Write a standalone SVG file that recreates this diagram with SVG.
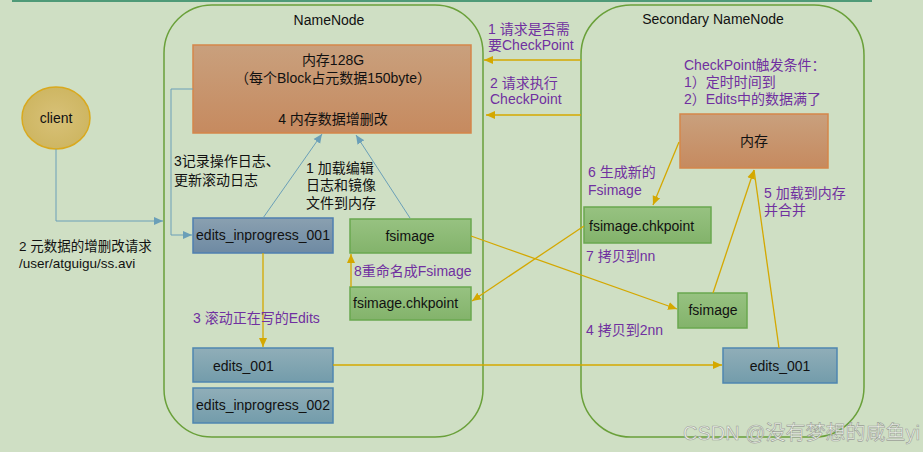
<svg xmlns="http://www.w3.org/2000/svg" width="923" height="452" viewBox="0 0 923 452">
<defs>
<linearGradient id="gMem" x1="0" y1="0" x2="0" y2="1"><stop offset="0" stop-color="#c9a07d"/><stop offset="1" stop-color="#c68a5f"/></linearGradient>
<linearGradient id="gBlue" x1="0" y1="0" x2="0" y2="1"><stop offset="0" stop-color="#90aeb8"/><stop offset="1" stop-color="#739cab"/></linearGradient>
<linearGradient id="gBlue2" x1="0" y1="0" x2="0" y2="1"><stop offset="0" stop-color="#8aa0b0"/><stop offset="1" stop-color="#6e8aa3"/></linearGradient>
<linearGradient id="gGreen" x1="0" y1="0" x2="0" y2="1"><stop offset="0" stop-color="#97c281"/><stop offset="1" stop-color="#83b36b"/></linearGradient>
<radialGradient id="gClient" cx="0.5" cy="0.5" r="0.6"><stop offset="0" stop-color="#d8c178"/><stop offset="1" stop-color="#ccb45e"/></radialGradient>
<marker id="aO" markerWidth="10" markerHeight="10" refX="9" refY="5" orient="auto" markerUnits="userSpaceOnUse"><path d="M0,1 L9,5 L0,9 z" fill="#d4a800"/></marker>
<marker id="aB" markerWidth="10" markerHeight="10" refX="9" refY="5" orient="auto" markerUnits="userSpaceOnUse"><path d="M0,1 L9,5 L0,9 z" fill="#6a9fb8"/></marker>
<style>
.t{font-family:"Liberation Sans","Noto Sans CJK SC",sans-serif;font-size:14px;fill:#111}
.p{font-family:"Liberation Sans","Noto Sans CJK SC",sans-serif;font-size:14px;fill:#7030a0}
.c{text-anchor:middle}
.cont{fill:none;stroke:#6aa03a;stroke-width:1.5}
.mem{fill:url(#gMem);stroke:#d5864a;stroke-width:1.5}
.blue{fill:url(#gBlue);stroke:#4f86b0;stroke-width:1.5}
.blue2{fill:url(#gBlue2);stroke:#4f7fb0;stroke-width:1.5}
.green{fill:url(#gGreen);stroke:#6aa84f;stroke-width:1.5}
.lo{fill:none;stroke:#d4a800;stroke-width:1.3}
.lb{fill:none;stroke:#6a9fb8;stroke-width:1}
</style>
</defs>
<rect x="0" y="0" width="923" height="452" fill="#cfdfc4"/>
<line x1="12" y1="1" x2="872" y2="1" stroke="#4f9a78" stroke-width="2"/>

<g id="namenode">
<rect class="cont" x="164" y="5" width="319" height="432" rx="48" ry="48"/>
<text class="t c" x="329" y="25">NameNode</text>
</g>
<g id="secondary-namenode">
<rect class="cont" x="581" y="5" width="283" height="432" rx="50" ry="50"/>
<text class="t c" x="713" y="24">Secondary NameNode</text>
</g>

<g id="client">
<ellipse cx="56" cy="118" rx="34" ry="31" fill="url(#gClient)" stroke="#d9a91e" stroke-width="1.5"/>
<text class="t c" x="56" y="123">client</text>
</g>

<g id="nn-memory">
<rect class="mem" x="193" y="45" width="278" height="88"/>
<text class="t c" x="333" y="65">内存128G</text>
<text class="t c" x="333" y="83">（每个Block占元数据150byte）</text>
<text class="t c" x="333" y="124">4 内存数据增删改</text>
</g>

<g id="edits-inprogress-001">
<rect class="blue2" x="193" y="218" width="140" height="35"/>
<text class="t c" x="263" y="240">edits_inprogress_001</text>
</g>
<g id="nn-fsimage">
<rect class="green" x="350" y="219" width="121" height="34"/>
<text class="t c" x="410" y="241">fsimage</text>
</g>
<g id="nn-fsimage-chkpoint">
<rect class="green" x="350" y="287" width="121" height="33"/>
<text class="t" x="353" y="308">fsimage.chkpoint</text>
</g>
<g id="nn-edits-001">
<rect class="blue" x="193" y="348" width="140" height="34"/>
<text class="t" x="213" y="371">edits_001</text>
</g>
<g id="edits-inprogress-002">
<rect class="blue" x="193" y="388" width="140" height="35"/>
<text class="t c" x="263" y="410">edits_inprogress_002</text>
</g>

<g id="snn-memory">
<rect class="mem" x="680" y="114" width="148" height="54"/>
<text class="t c" x="754" y="146">内存</text>
</g>
<g id="snn-fsimage-chkpoint">
<rect class="green" x="584" y="207" width="127" height="36"/>
<text class="t" x="589" y="231">fsimage.chkpoint</text>
</g>
<g id="snn-fsimage">
<rect class="green" x="678" y="293" width="69" height="35"/>
<text class="t c" x="713" y="315">fsimage</text>
</g>
<g id="snn-edits-001">
<rect class="blue" x="723" y="348" width="114" height="35"/>
<text class="t c" x="780" y="371">edits_001</text>
</g>

<g id="connectors">
<path class="lb" d="M56,149 V221 H163" marker-end="url(#aB)"/>
<path class="lb" d="M193,89 H171 V235 H192" marker-end="url(#aB)"/>
<path class="lb" d="M263,218 L322,134" marker-end="url(#aB)"/>
<path class="lb" d="M410,218 L356,135" marker-end="url(#aB)"/>
<path class="lo" d="M263,253 V347" marker-end="url(#aO)"/>
<path class="lo" d="M351,287 V254" marker-end="url(#aO)"/>
<path class="lo" d="M581,60 H484" marker-end="url(#aO)"/>
<path class="lo" d="M581,115 H486" marker-end="url(#aO)"/>
<path class="lo" d="M679,142 L653,205" marker-end="url(#aO)"/>
<path class="lo" d="M584,226 L472,301" marker-end="url(#aO)"/>
<path class="lo" d="M471,236 L677,309" marker-end="url(#aO)"/>
<path class="lo" d="M333,365 H722" marker-end="url(#aO)"/>
<path class="lo" d="M713,293 L754,170" marker-end="url(#aO)"/>
<path class="lo" d="M779,348 L754,170"/>
</g>

<g id="labels">
<text class="t" x="174" y="166">3记录操作日志、</text>
<text class="t" x="174" y="185">更新滚动日志</text>
<text class="t" x="306" y="173">1 加载编辑</text>
<text class="t" x="306" y="190">日志和镜像</text>
<text class="t" x="306" y="208">文件到内存</text>
<text class="t" x="19" y="251" style="font-size:13.5px">2 元数据的增删改请求</text>
<text class="t" x="19" y="268" style="font-size:13.5px">/user/atguigu/ss.avi</text>
<text class="p" x="193" y="323">3 滚动正在写的Edits</text>
<text class="p" x="354" y="276">8重命名成Fsimage</text>
<text class="p" x="488" y="34">1 请求是否需</text>
<text class="p" x="488" y="50">要CheckPoint</text>
<text class="p" x="490" y="88">2 请求执行</text>
<text class="p" x="490" y="104">CheckPoint</text>
<text class="p" x="684" y="70">CheckPoint触发条件：</text>
<text class="p" x="684" y="87">1）定时时间到</text>
<text class="p" x="684" y="104">2）Edits中的数据满了</text>
<text class="p" x="588" y="177">6 生成新的</text>
<text class="p" x="588" y="195">Fsimage</text>
<text class="p" x="764" y="198">5 加载到内存</text>
<text class="p" x="764" y="215">并合并</text>
<text class="p" x="586" y="261">7 拷贝到nn</text>
<text class="p" x="586" y="335">4 拷贝到2nn</text>
</g>
<text x="683" y="440" style="font-family:'Liberation Sans','Noto Sans CJK SC',sans-serif;font-size:20px;fill:#eef2ea;stroke:#9aa096;stroke-width:0.6">CSDN @没有梦想的咸鱼yi</text>
</svg>
